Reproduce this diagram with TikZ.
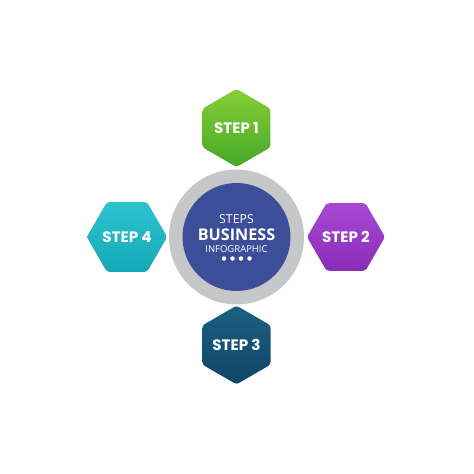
\documentclass[tikz,border=0pt]{standalone}
\usepackage{fontspec}
\newfontfamily\stepfont{Poppins}
\newfontfamily\centerfont{Open Sans}
\usetikzlibrary{shapes.geometric}
\definecolor{gA}{HTML}{86CF34}
\definecolor{gB}{HTML}{45A82A}
\definecolor{pA}{HTML}{A648D2}
\definecolor{pB}{HTML}{8A2DB8}
\definecolor{bA}{HTML}{1C5F82}
\definecolor{bB}{HTML}{0E4666}
\definecolor{cA}{HTML}{2CC3CF}
\definecolor{cB}{HTML}{17A8B8}
\definecolor{ringgrey}{HTML}{C6C7C9}
\definecolor{disc}{HTML}{3C4E9A}
\tikzset{
  hexbox/.style={regular polygon, regular polygon sides=6, minimum size=1.56cm,
    inner sep=0pt, rounded corners=1.5pt, text=white,
    font=\stepfont\bfseries\fontsize{8.6}{10}\selectfont},
  pointy/.style={shape border rotate=30},
  dotmark/.style={circle, fill=white, inner sep=0pt, minimum size=0.09cm}
}
\begin{document}
\begin{tikzpicture}[x=0.02cm,y=-0.02cm]
\useasboundingbox (0,0) rectangle (474,474);
\fill[white] (0,0) rectangle (474,474);
% central circle
\node[circle, fill=ringgrey, minimum size=2.7cm, inner sep=0pt] (ring) at (236.5,237) {};
\node[circle, fill=disc, minimum size=2.16cm, inner sep=0pt] (core) at (236.5,237) {};
\node[text=white, font=\centerfont\fontsize{7}{8}\selectfont, inner sep=0pt] (t1) at (236.5,219.5) {STEPS};
\node[text=white, font=\centerfont\bfseries\fontsize{9.2}{10}\selectfont, inner sep=0pt] (t2) at (236.5,235) {BUSINESS};
\node[text=white, font=\centerfont\fontsize{5.4}{6}\selectfont, inner sep=0pt] (t3) at (236.5,249) {INFOGRAPHIC};
\node[dotmark] (d1) at (224,258.5) {};
\node[dotmark] (d2) at (232.5,258.5) {};
\node[dotmark] (d3) at (241,258.5) {};
\node[dotmark] (d4) at (249.5,258.5) {};
% hexagons
\node[hexbox, pointy, top color=gA, bottom color=gB] (s1) at (236.5,128) {STEP 1};
\node[hexbox, top color=pA, bottom color=pB] (s2) at (346,237) {STEP 2};
\node[hexbox, pointy, top color=bA, bottom color=bB] (s3) at (236.5,345) {STEP 3};
\node[hexbox, top color=cA, bottom color=cB] (s4) at (127,237) {STEP 4};
\end{tikzpicture}
\end{document}
